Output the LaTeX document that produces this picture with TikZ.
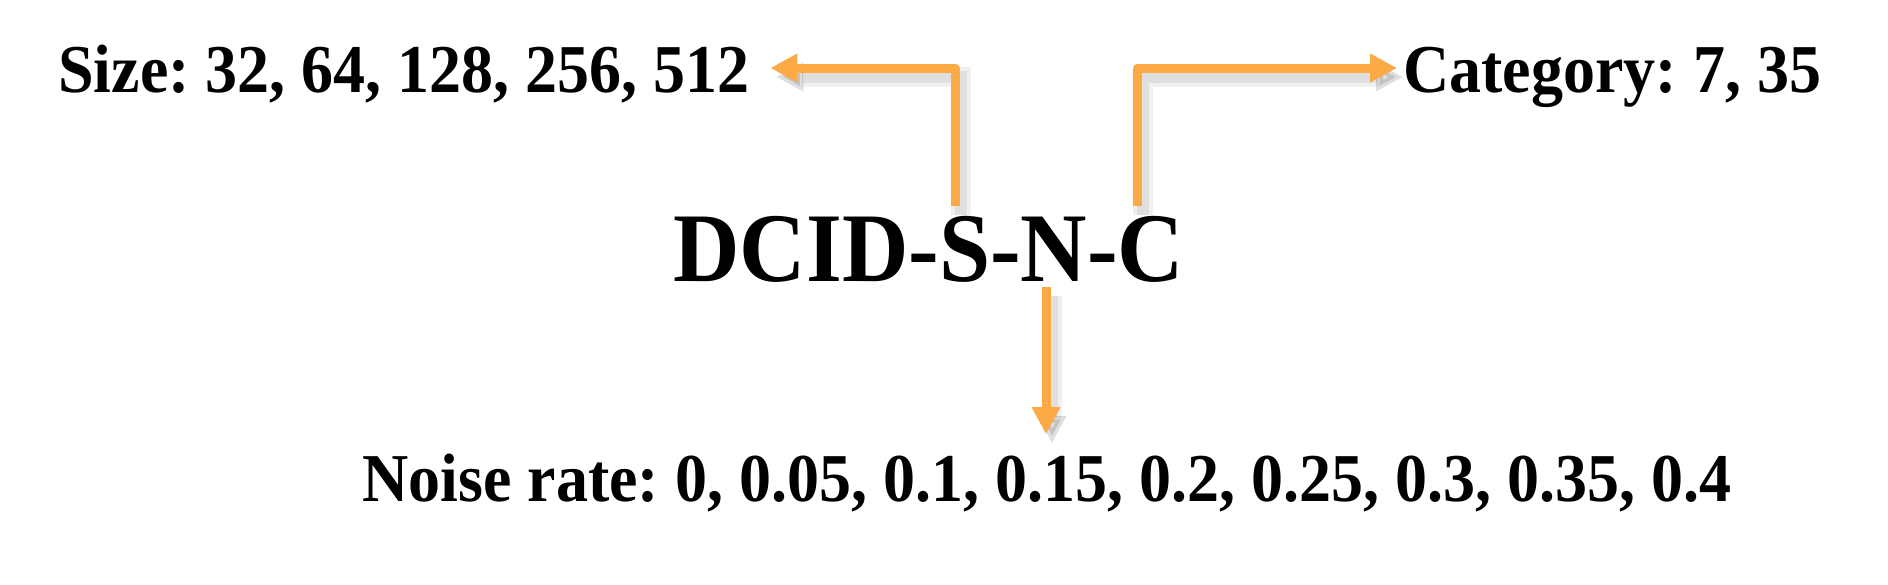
\documentclass[tikz,border=0pt]{standalone}
\usepackage{fontspec}
\setmainfont{Liberation Serif}
\usetikzlibrary{arrows.meta}
\definecolor{linkorange}{HTML}{FBAA45}
\frenchspacing
\newcommand{\tall}[1]{\scalebox{1}[1.07]{#1}}

\begin{document}
\begin{tikzpicture}[
  x=0.5pt, y=-0.5pt,
  label/.style={inner sep=0pt, anchor=base west, font=\fontsize{32}{38}\selectfont\bfseries},
  title/.style={inner sep=0pt, anchor=base west, font=\fontsize{46}{55}\selectfont\bfseries},
  to/.style={->, >={Triangle[length=13.5pt,width=13.5pt]}, line width=4.5pt,
    line join=round, draw=linkorange,
    preaction={draw=black, opacity=0.06, line width=10pt,
      transform canvas={shift={(3pt,-4.5pt)}}},
    preaction={draw=black, opacity=0.07, line width=6pt,
      transform canvas={shift={(3pt,-4.5pt)}}}}]

  \useasboundingbox (0,0) rectangle (1888,584);

  % The texts
  \node[label] (size) at (58,92) {\tall{Size: 32, 64, 128, 256, 512}};
  \node[label] (category) at (1403,92) {\tall{Category: 7, 35}};
  \node[title] (code) at (673,281) {\tall{DCID-S-N-C}};
  \node[label] (noise) at (362,501) {\tall{Noise rate: 0, 0.05, 0.1, 0.15, 0.2, 0.25, 0.3, 0.35, 0.4}};

  % Where the arrows leave the code
  \coordinate (sTap) at (955,206);
  \coordinate (cTap) at (1137,206);
  \coordinate (nTap) at (1046,287);

  % Draw the arrows
  \draw[to] (sTap) |- ([xshift=10pt, yshift=12pt]size.base east);
  \draw[to] (cTap) |- ([xshift=-3pt, yshift=12pt]category.base west);
  \draw[to, shorten >=9.5pt] (nTap) -- (nTap |- noise.north);
\end{tikzpicture}
\end{document}
